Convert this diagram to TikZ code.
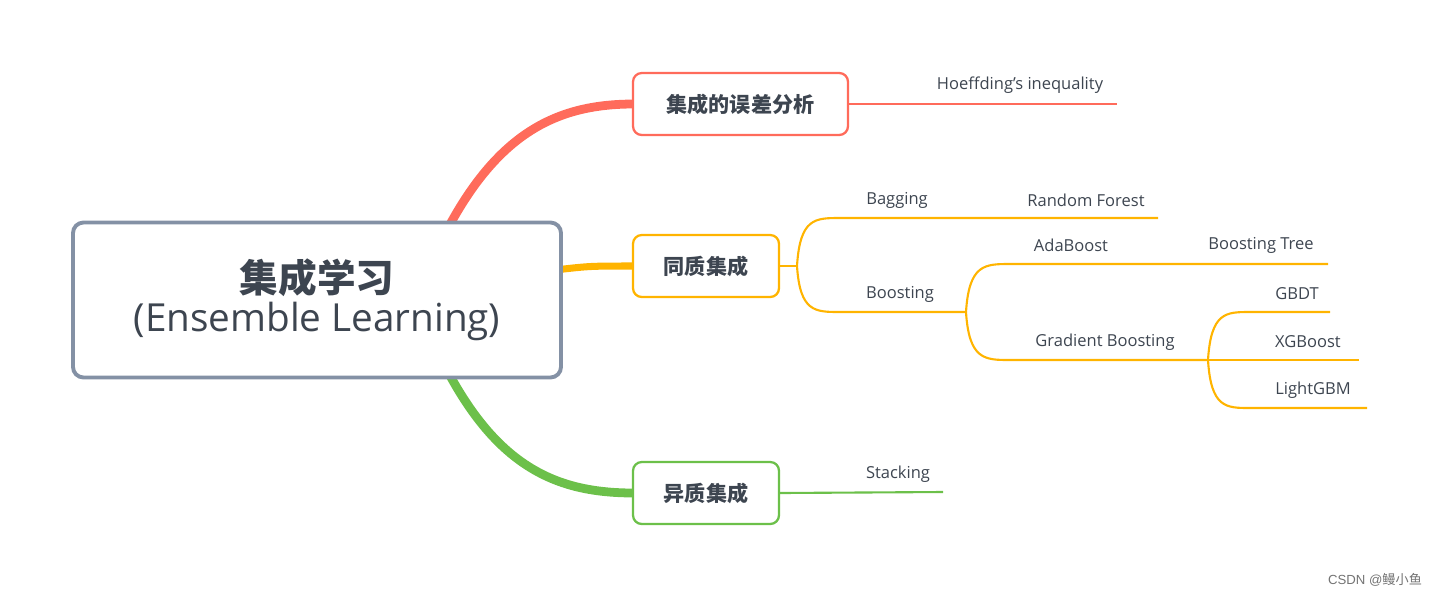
\documentclass[tikz,border=0pt]{standalone}
\usepackage{fontspec}
\setmainfont{Open Sans}
\newfontfamily\cjk{Noto Sans CJK SC}
\begin{document}
\begin{tikzpicture}[x=0.02cm,y=-0.02cm,
  tx/.style={text=txt,font=\fontsize{9.4}{11}\selectfont,inner sep=0pt},
  topic/.style={draw,rounded corners=5pt,line width=1.3pt,fill=white,text=txt,font=\cjk\bfseries\fontsize{12}{14}\selectfont,inner sep=0pt},
  ln/.style={line width=1.2pt}]
\definecolor{txt}{HTML}{3D4550}
\definecolor{cr}{HTML}{FF6B5B}
\definecolor{cy}{HTML}{FFB400}
\definecolor{cg}{HTML}{6CC04A}
\definecolor{cb}{HTML}{8491A5}
\useasboundingbox (0,0) rectangle (1440,596);
% main branches
\coordinate (rs) at (447,230); \coordinate (ys) at (555,270); \coordinate (gs) at (447,370);
\coordinate (re) at (634,104); \coordinate (ye) at (634,266); \coordinate (ge) at (634,493);
\draw[cr,line width=5pt] (rs) .. controls (500,130) and (560,104) .. (re);
\draw[cy,line width=4pt] (ys) .. controls (590,266) .. (ye);
\draw[cg,line width=5pt] (gs) .. controls (500,470) and (560,493) .. (ge);
% central
\node[draw=cb,line width=2.2pt,rounded corners=6pt,fill=white,minimum width=488*0.02cm,minimum height=155*0.02cm,inner sep=0pt,text=txt,align=center] (c) at (317,300)
 {{\cjk\bfseries\fontsize{22}{28}\selectfont 集成学习}\\[2pt]{\fontsize{22}{28}\selectfont (Ensemble Learning)}};
% topics
\node[topic,draw=cr,minimum width=215*0.02cm,minimum height=62*0.02cm] (t1) at (740.5,104) {集成的误差分析};
\node[topic,draw=cy,minimum width=146*0.02cm,minimum height=62*0.02cm] (t2) at (706,266) {同质集成};
\node[topic,draw=cg,minimum width=146*0.02cm,minimum height=62*0.02cm] (t3) at (706,493) {异质集成};
% red subtree
\coordinate (h1) at (1117,104);
\draw[cr,ln] (t1.east) -- (h1);
\node[tx] (hoef) at (1020,85) {Hoeffding's inequality};
% green subtree
\coordinate (s1) at (943,492);
\draw[cg,ln] (t3.east) -- (s1);
\node[tx] (stk) at (898,474) {Stacking};
% yellow subtree
\coordinate (y0) at (797,266);
\coordinate (bg0) at (840,218); \coordinate (bg1) at (1158,218);
\coordinate (bo0) at (840,312); \coordinate (bo1) at (966,312);
\draw[cy,ln] (t2.east) -- (y0);
\draw[cy,ln] (y0) .. controls (800,218) and (815,218) .. (bg0) -- (bg1);
\draw[cy,ln] (y0) .. controls (800,312) and (815,312) .. (bo0) -- (bo1);
\node[tx] (bag) at (897,200) {Bagging};
\node[tx] (rf) at (1086,200) {Random Forest};
\node[tx] (boo) at (900,294) {Boosting};
\coordinate (ad0) at (1010,264); \coordinate (ad1) at (1328,264);
\coordinate (gb0) at (1010,360); \coordinate (gb1) at (1208,360);
\draw[cy,ln] (bo1) .. controls (969,264) and (985,264) .. (ad0) -- (ad1);
\draw[cy,ln] (bo1) .. controls (969,360) and (985,360) .. (gb0) -- (gb1);
\node[tx] (ada) at (1071,245) {AdaBoost};
\node[tx] (bt) at (1261,245) {Boosting Tree};
\node[tx] (gbt) at (1105,342) {Gradient Boosting};
\coordinate (g1) at (1250,312); \coordinate (g1e) at (1330,312);
\coordinate (x1) at (1250,360); \coordinate (x1e) at (1359,360);
\coordinate (l1) at (1250,408); \coordinate (l1e) at (1367,408);
\draw[cy,ln] (gb1) .. controls (1211,312) and (1226,312) .. (g1) -- (g1e);
\draw[cy,ln] (gb1) -- (x1e);
\draw[cy,ln] (gb1) .. controls (1211,408) and (1226,408) .. (l1) -- (l1e);
\node[tx] (gbdt) at (1297,294) {GBDT};
\node[tx] (xgb) at (1308,342) {XGBoost};
\node[tx] (lgb) at (1313,390) {LightGBM};
\node[text=black!55,font=\fontsize{7.5}{9}\selectfont,inner sep=0pt] (wm) at (1375,580) {\fontspec{Liberation Sans}CSDN @{\cjk 鳗小鱼}};
\end{tikzpicture}
\end{document}
